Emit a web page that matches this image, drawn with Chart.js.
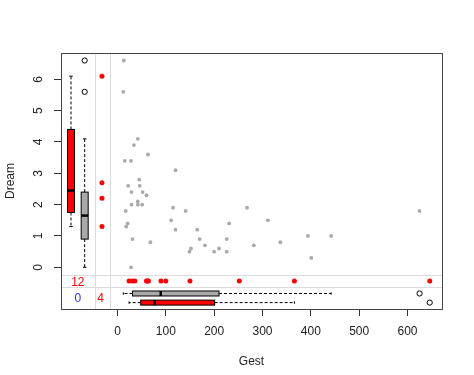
<!DOCTYPE html>
<html><head><meta charset="utf-8">
<script src="https://cdn.jsdelivr.net/npm/chart.js@4.4.1/dist/chart.umd.min.js"></script>
<style>html,body{margin:0;padding:0;background:#fff;}canvas{display:block;}</style>
</head><body>
<canvas id="c" width="474" height="375"></canvas>
<script>
// ---- data ----
const xTicks = [0, 100, 200, 300, 400, 500, 600];
const yTicks = [0, 1, 2, 3, 4, 5, 6];
const xLabel = 'Gest';
const yLabel = 'Dream';
// observations with both Gest and Dream observed
const gestBoth  = [13, 12, 42, 34, 63, 15, 28, 120, 45, 22, 46, 29, 52, 60, 42, 29, 42, 51, 115, 268, 17, 141, 111, 311, 21, 18, 231, 120, 165, 31, 170, 226, 68, 337, 181, 282, 152, 210, 149, 200, 226, 28, 394, 442, 401, 625];
const dreamBoth = [6.6, 5.6, 4.1, 3.9, 3.6, 3.4, 3.4, 3.1, 2.8, 2.6, 2.6, 2.4, 2.4, 2.3, 2.1, 2.0, 2.0, 2.0, 1.9, 1.9, 1.8, 1.8, 1.5, 1.5, 1.4, 1.3, 1.4, 1.2, 1.2, 0.9, 0.9, 0.9, 0.8, 0.8, 0.7, 0.7, 0.6, 0.6, 0.5, 0.5, 0.5, 0.0, 1.0, 1.0, 0.3, 1.8];
// Gest values where Dream is missing
const gestDreamMissing = [24, 31, 36, 60, 62, 64, 90, 100, 150, 252, 366, 646];
// Dream values where Gest is missing
const dreamGestMissing = [6.1, 2.7, 2.2, 1.3];
const bothMissingCount = 0;

// ---- layout (data-space positions of the margin areas) ----
const X_MIN = -116.9, X_MAX = 671.4, Y_MIN = -1.331, Y_MAX = 6.84;
const X_SEP = [-46.6, -15.5], Y_SEP = [-0.246, -0.63];
const X_MISS = -32.1, Y_MISS = -0.437;
const X_BOX_RED = -96.2, X_BOX_GREY = -67.9;
const Y_BOX_GREY = -0.836, Y_BOX_RED = -1.127;
const X_CNT_BOX = -82, X_CNT_MISS = -34.8, Y_CNT_TOP = -0.49, Y_CNT_BOT = -1.012;
const GREY = '#a9a9a9', RED = '#ff0000', BLUE = '#3030e8';
const FONT = 'Liberation Sans, Arial, Helvetica, sans-serif';

Chart.defaults.font.family = FONT;
Chart.defaults.font.size = 12;

function fivenum(a) {
  const x = [...a].sort((p, q) => p - q), n = x.length;
  const n4 = Math.floor((n + 3) / 2) / 2;
  const d = [1, n4, (n + 1) / 2, n + 1 - n4, n];
  return d.map(v => 0.5 * (x[Math.floor(v) - 1] + x[Math.ceil(v) - 1]));
}
function boxStats(a) {
  const f = fivenum(a), iqr = f[3] - f[1];
  const loF = f[1] - 1.5 * iqr, hiF = f[3] + 1.5 * iqr;
  const inside = a.filter(v => v >= loF && v <= hiF);
  return { lo: Math.min(...inside), q1: f[1], med: f[2], q3: f[3], hi: Math.max(...inside),
           out: a.filter(v => v < loF || v > hiF) };
}

function line(ctx, x1, y1, x2, y2) { ctx.beginPath(); ctx.moveTo(x1, y1); ctx.lineTo(x2, y2); ctx.stroke(); }

function drawBox(ctx, x, y, vals, pos, fill, vertical, half) {
  const s = boxStats(vals);
  const P = v => vertical ? y.getPixelForValue(v) : x.getPixelForValue(v);
  const c = vertical ? x.getPixelForValue(pos) : y.getPixelForValue(pos);
  const seg = (a, b, ca, cb) => vertical ? line(ctx, ca, a, cb, b) : line(ctx, a, ca, b, cb);
  ctx.strokeStyle = '#000'; ctx.lineWidth = 1;
  // whiskers
  ctx.setLineDash([3, 2]);
  seg(P(s.q3), P(s.hi), c, c);
  seg(P(s.q1), P(s.lo), c, c);
  ctx.setLineDash([]);
  // staples
  const st = half / 2;
  [s.hi, s.lo].forEach(v => vertical ? line(ctx, c - st, P(v), c + st, P(v)) : line(ctx, P(v), c - st, P(v), c + st));
  // box
  ctx.fillStyle = fill;
  if (vertical) {
    const t = P(s.q3), b = P(s.q1);
    ctx.fillRect(c - half, t, 2 * half, b - t); ctx.strokeRect(c - half, t, 2 * half, b - t);
  } else {
    const l = P(s.q1), r = P(s.q3);
    ctx.fillRect(l, c - half, r - l, 2 * half); ctx.strokeRect(l, c - half, r - l, 2 * half);
  }
  // median
  ctx.lineWidth = 2.5;
  vertical ? line(ctx, c - half, P(s.med), c + half, P(s.med)) : line(ctx, P(s.med), c - half, P(s.med), c + half);
  // outliers
  ctx.lineWidth = 1;
  s.out.forEach(v => {
    ctx.beginPath();
    vertical ? ctx.arc(c, P(v), 2.6, 0, Math.PI * 2) : ctx.arc(P(v), c, 2.6, 0, Math.PI * 2);
    ctx.fillStyle = '#fff'; ctx.fill(); ctx.stroke();
  });
}

const marginPlugin = {
  id: 'margin',
  beforeDatasetsDraw(chart) {
    const { ctx, chartArea: a, scales: { x, y } } = chart;
    ctx.save();
    ctx.strokeStyle = '#dcdcdc'; ctx.lineWidth = 1;
    X_SEP.forEach(v => { const p = Math.round(x.getPixelForValue(v)) + 0.5; line(ctx, p, a.top, p, a.bottom); });
    Y_SEP.forEach(v => { const p = Math.round(y.getPixelForValue(v)) + 0.5; line(ctx, a.left, p, a.right, p); });
    ctx.restore();
  },
  afterDatasetsDraw(chart) {
    const { ctx, chartArea: a, scales: { x, y } } = chart;
    ctx.save();
    const obsDreamRow = dreamBoth;
    drawBox(ctx, x, y, dreamGestMissing, X_BOX_RED, RED, true, 3.5);
    drawBox(ctx, x, y, obsDreamRow, X_BOX_GREY, GREY, true, 3.5);
    drawBox(ctx, x, y, gestBoth, Y_BOX_GREY, GREY, false, 2.5);
    drawBox(ctx, x, y, gestDreamMissing, Y_BOX_RED, RED, false, 2.5);
    // counts
    ctx.font = '12px ' + FONT; ctx.textAlign = 'center'; ctx.textBaseline = 'middle';
    ctx.fillStyle = RED;
    ctx.fillText(String(gestDreamMissing.length), x.getPixelForValue(X_CNT_BOX), y.getPixelForValue(Y_CNT_TOP));
    ctx.fillText(String(dreamGestMissing.length), x.getPixelForValue(X_CNT_MISS), y.getPixelForValue(Y_CNT_BOT));
    ctx.fillStyle = BLUE;
    ctx.fillText(String(bothMissingCount), x.getPixelForValue(X_CNT_BOX), y.getPixelForValue(Y_CNT_BOT));
    // frame
    ctx.strokeStyle = '#444'; ctx.lineWidth = 1;
    ctx.strokeRect(Math.round(a.left) + 0.5, Math.round(a.top) + 0.5, Math.round(a.right - a.left), Math.round(a.bottom - a.top));
    ctx.restore();
  }
};

new Chart(document.getElementById('c'), {
  type: 'scatter',
  data: {
    datasets: [
      { data: gestBoth.map((g, i) => ({ x: g, y: dreamBoth[i] })), backgroundColor: GREY, borderWidth: 0, pointRadius: 1.9 },
      { data: dreamGestMissing.map(d => ({ x: X_MISS, y: d })), backgroundColor: RED, borderWidth: 0, pointRadius: 2.5 },
      { data: gestDreamMissing.map(g => ({ x: g, y: Y_MISS })), backgroundColor: RED, borderWidth: 0, pointRadius: 2.5 }
    ]
  },
  options: {
    responsive: false, animation: false, devicePixelRatio: 1,
    layout: { padding: { left: 0, right: 32, top: 53, bottom: 0 } },
    plugins: { legend: { display: false }, tooltip: { enabled: false } },
    scales: {
      x: {
        type: 'linear', position: 'bottom', min: X_MIN, max: X_MAX,
        afterBuildTicks: s => { s.ticks = xTicks.map(v => ({ value: v })); },
        afterFit: s => { s.height = 66; },
        grid: { drawOnChartArea: false, drawTicks: true, tickLength: 7, color: '#333' },
        border: { display: false },
        ticks: { autoSkip: false, maxRotation: 0, padding: 8, color: '#222', font: { size: 12 } },
        title: { display: true, text: xLabel, color: '#222', font: { size: 12 }, padding: { top: 0, bottom: 6 } }
      },
      y: {
        type: 'linear', position: 'left', min: Y_MIN, max: Y_MAX,
        afterBuildTicks: s => { s.ticks = yTicks.map(v => ({ value: v })); },
        afterFit: s => { s.width = 61; },
        grid: { drawOnChartArea: false, drawTicks: true, tickLength: 7, color: '#333' },
        border: { display: false },
        ticks: { autoSkip: false, minRotation: 90, maxRotation: 90, crossAlign: 'center', padding: 12, color: '#222', font: { size: 12 } },
        title: { display: true, text: yLabel, color: '#222', font: { size: 12 }, padding: { top: 3, bottom: 0 } }
      }
    }
  },
  plugins: [marginPlugin]
});
</script>
</body></html>
